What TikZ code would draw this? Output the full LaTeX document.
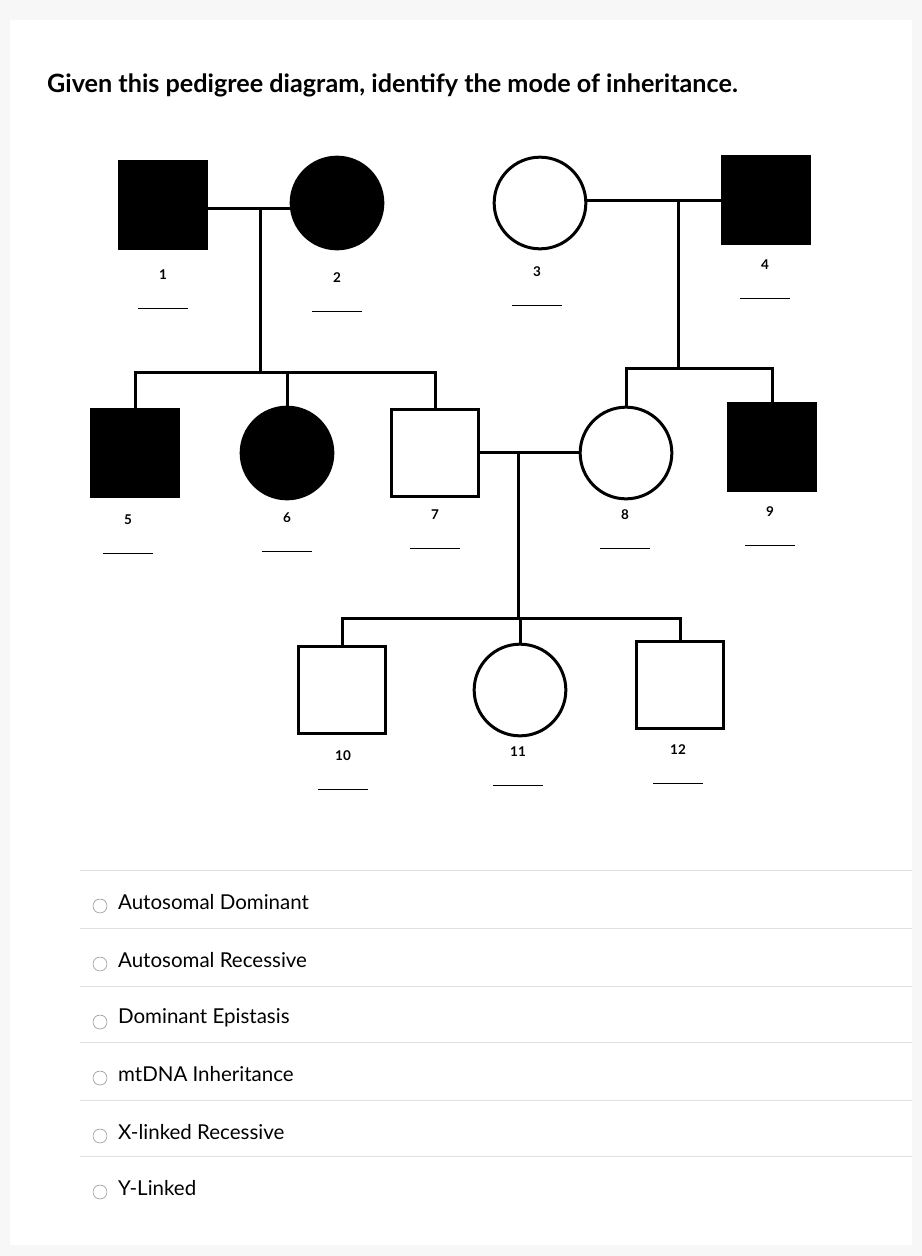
\documentclass[tikz,border=0pt]{standalone}
\usepackage{fontspec}
\setmainfont{Lato}
\begin{document}
\begin{tikzpicture}[x=0.03cm,y=-0.03cm,
  lw/.style={line width=0.09cm},
  msq/.style={draw,lw,minimum size=2.6cm,inner sep=0},
  fsq/.style={msq,fill=black},
  fc/.style={draw,lw,circle,minimum size=2.75cm,inner sep=0},
  ffc/.style={fc,fill=black},
  num/.style={font=\bfseries\fontsize{11.5}{13}\selectfont},
  opt/.style={font=\fontsize{17.5}{20}\selectfont,anchor=west},
  radio/.style={draw=gray,circle,minimum size=0.42cm,inner sep=0}]
\fill[gray!6] (0,0) rectangle (922,1256);
\fill[white] (10,20) rectangle (912,1245);
\useasboundingbox (0,0) rectangle (922,1256);
\node[anchor=west,font=\bfseries\fontsize{21.5}{24}\selectfont] (t) at (43,85) {Given this pedigree diagram, identify the mode of inheritance.};
% generation I
\node[fsq] (p1) at (163,205) {};
\node[ffc] (p2) at (337,203) {};
\node[fc] (p3) at (540,203) {};
\node[fsq] (p4) at (766,200) {};
% generation II
\node[fsq] (p5) at (135,453) {};
\node[ffc] (p6) at (287,453) {};
\node[msq] (p7) at (435,453) {};
\node[fc] (p8) at (626,453) {};
\node[fsq] (p9) at (772,447) {};
% generation III
\node[msq] (p10) at (342,690) {};
\node[fc] (p11) at (520,690) {};
\node[msq] (p12) at (680,685) {};
% labels
\foreach \n/\x/\y/\l in {l1/163/275/1,l2/337/278/2,l3/537/272/3,l4/765/265/4,l5/128/520/5,l6/287/518/6,l7/435/515/7,l8/625/515/8,l9/770/512/9,l10/343/756/10,l11/518/752/11,l12/678/750/12}{
  \node[num] (\n) at (\x,\y) {\l};
  \coordinate (\n a) at (\x-25,\y+33); \coordinate (\n b) at (\x+25,\y+33);
  \draw[line width=0.03cm] (\n a) -- (\n b);}
% connectors
\coordinate (m12) at (260,208); \coordinate (b12) at (260,372);
\coordinate (s5) at (135,372); \coordinate (s7) at (435,372);
\draw[lw] (p1.east|-m12) -- (p2.west|-m12);
\draw[lw] (m12) -- (b12);
\draw[lw] (p5.north) -- (s5) -- (s7) -- (p7.north);
\draw[lw] (p6.north) -- (p6.north|-b12);
\coordinate (m34) at (678,200); \coordinate (b34) at (678,368);
\coordinate (s8) at (626,368); \coordinate (s9) at (772,368);
\draw[lw] (p3.east|-m34) -- (p4.west|-m34);
\draw[lw] (m34) -- (b34);
\draw[lw] (p8.north) -- (s8) -- (s9) -- (p9.north);
\coordinate (m78) at (518,452); \coordinate (b78) at (518,618);
\coordinate (s10) at (342,618); \coordinate (s12) at (680,618);
\draw[lw] (p7.east|-m78) -- (p8.west|-m78);
\draw[lw] (m78) -- (b78);
\draw[lw] (p10.north) -- (s10) -- (s12) -- (p12.north);
\draw[lw] (p11.north) -- (p11.north|-b78);
% options
\foreach \i/\y/\txt in {1/906/Autosomal Dominant,2/964/Autosomal Recessive,3/1022/Dominant Epistasis,4/1078/mtDNA Inheritance,5/1136/X-linked Recessive,6/1192/Y-Linked}{
  \node[radio] (r\i) at (100,\y) {};
  \node[opt] (o\i) at (114,\y-4) {\txt};
  \draw[gray!25,line width=0.03cm] (80,\y-36) -- (912,\y-36);}
\end{tikzpicture}
\end{document}
